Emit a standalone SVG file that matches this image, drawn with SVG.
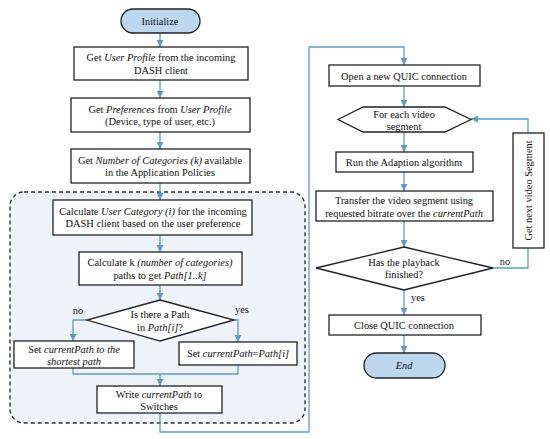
<svg xmlns="http://www.w3.org/2000/svg" width="550" height="439" viewBox="0 0 550 439" font-family="'Liberation Serif', 'Times New Roman', Times, serif">
<defs>
<marker id="arr" viewBox="0 0 10 10" refX="10" refY="5" markerWidth="7" markerHeight="7" markerUnits="userSpaceOnUse" orient="auto">
<path d="M0,0 L10,5 L0,10 z" fill="#5b9bd5"/>
</marker>
<style>
.box{fill:#fff;stroke:#222;stroke-width:1.3}
.term{fill:#bdd7ee;stroke:#222;stroke-width:1.3}
text{font-family:'Liberation Serif','Times New Roman',Times,serif}
.t{font-size:10.4px;fill:#111;text-anchor:middle}
.i{font-style:italic}
.c{fill:none;stroke:#5b9bd5;stroke-width:1.3}
.a{marker-end:url(#arr)}
</style>
</defs>
<rect width="550" height="439" fill="#fff"/>
<rect id="region" x="10" y="192" width="295" height="231" rx="14" fill="#eef3fa" stroke="#333" stroke-width="1.4" stroke-dasharray="4,3"/>
<g id="connectors">
<path class="c a" d="M160,33 V47"/>
<path class="c a" d="M160,80 V98"/>
<path class="c a" d="M160,132 V149"/>
<path class="c a" d="M160,183 V200"/>
<path class="c a" d="M160,235 V252"/>
<path class="c a" d="M160,285 V300"/>
<path class="c a" d="M87,320 H73 V341"/>
<path class="c a" d="M234,320 H238 V342"/>
<path class="c" d="M73,368 V374 H238 V365"/>
<path class="c a" d="M160,374 V386"/>
<path class="c a" d="M160,413 V432 H309 V47 H404 V65"/>
<path class="c a" d="M404,87 V107"/>
<path class="c a" d="M404,132 V152"/>
<path class="c a" d="M404,172 V191"/>
<path class="c a" d="M404,221 V247"/>
<path class="c" d="M493,268 H528 V248"/>
<path class="c a" d="M528,133 V119 H471"/>
<path class="c a" d="M404,290 V315"/>
<path class="c a" d="M404,335 V353"/>
</g>
<g id="initialize"><rect class="term" x="121" y="9" width="79" height="24" rx="12"/><text class="t" x="160" y="24.5">Initialize</text></g>
<g id="get-profile"><rect class="box" x="74" y="47" width="174" height="33"/><text class="t" x="161" y="61">Get <tspan class="i">User Profile</tspan> from the incoming</text><text class="t" x="161" y="73.5">DASH client</text></g>
<g id="get-preferences"><rect class="box" x="71" y="98" width="179" height="34"/><text class="t" x="160" y="112.5">Get <tspan class="i">Preferences</tspan> from <tspan class="i">User Profile</tspan></text><text class="t" x="160" y="125">(Device, type of user, etc.)</text></g>
<g id="get-categories"><rect class="box" x="71" y="149" width="179" height="34"/><text class="t" x="160" y="163.5">Get <tspan class="i">Number of Categories (k)</tspan> available</text><text class="t" x="160" y="176">in the Application Policies</text></g>
<g id="calc-category"><rect class="box" x="53" y="200" width="199" height="35"/><text class="t" x="153" y="214.5">Calculate <tspan class="i">User Category (i)</tspan> for the incoming</text><text class="t" x="153" y="227">DASH client based on the user preference</text></g>
<g id="calc-paths"><rect class="box" x="79" y="252" width="163" height="33"/><text class="t" x="160" y="266">Calculate k <tspan class="i">(number of categories)</tspan></text><text class="t" x="160" y="278.5">paths to get <tspan class="i">Path[1..k]</tspan></text></g>
<g id="is-path"><polygon class="box" points="160,300 234,320 160,341 87,320"/><text class="t" x="160" y="318">Is there a Path</text><text class="t" x="160" y="330.5">in <tspan class="i">Path[i]</tspan>?</text></g>
<g id="set-shortest"><rect class="box" x="14" y="341" width="120" height="27"/><text class="t" x="74" y="353">Set <tspan class="i">currentPath to the</tspan></text><text class="t i" x="74" y="365">shortest path</text></g>
<g id="set-path"><rect class="box" x="179" y="342" width="118" height="23"/><text class="t" x="238" y="357">Set <tspan class="i">currentPath</tspan>=<tspan class="i">Path[i]</tspan></text></g>
<g id="write"><rect class="box" x="97" y="386" width="125" height="27"/><text class="t" x="159" y="398">Write <tspan class="i">currentPath</tspan> to</text><text class="t" x="159" y="410">Switches</text></g>
<g id="labels"><text class="t" x="78" y="314">no</text><text class="t" x="242" y="313">yes</text><text class="t" x="505" y="265">no</text><text class="t" x="418" y="301">yes</text></g>
<g id="open-quic"><rect class="box" x="329" y="65" width="151" height="21"/><text class="t" x="404" y="79.5">Open a new QUIC connection</text></g>
<g id="for-each"><polygon class="box" points="338,119.5 363,107 445,107 471,119.5 445,132 363,132"/><text class="t" x="404" y="117.5">For each video</text><text class="t" x="404" y="129.5">segment</text></g>
<g id="run-adaption"><rect class="box" x="336" y="152" width="137" height="20"/><text class="t" x="404" y="165.5">Run the Adaption algorithm</text></g>
<g id="transfer"><rect class="box" x="316" y="191" width="177" height="30"/><text class="t" x="404" y="204">Transfer the video segment using</text><text class="t" x="404" y="216.5">requested bitrate over the <tspan class="i">currentPath</tspan></text></g>
<g id="playback"><polygon class="box" points="404,247 493,268 404,290 316,268"/><text class="t" x="404" y="265.5">Has the playback</text><text class="t" x="404" y="278">finished?</text></g>
<g id="next-segment"><rect class="box" x="513" y="133" width="31" height="115"/><text class="t" x="0" y="0" transform="translate(532,190.5) rotate(-90)">Get next video Segment</text></g>
<g id="close-quic"><rect class="box" x="329" y="315" width="152" height="20"/><text class="t" x="404" y="328.5">Close QUIC connection</text></g>
<g id="end"><rect class="term" x="364" y="353" width="81" height="25" rx="12.5"/><text class="t i" x="404" y="369">End</text></g>
</svg>
